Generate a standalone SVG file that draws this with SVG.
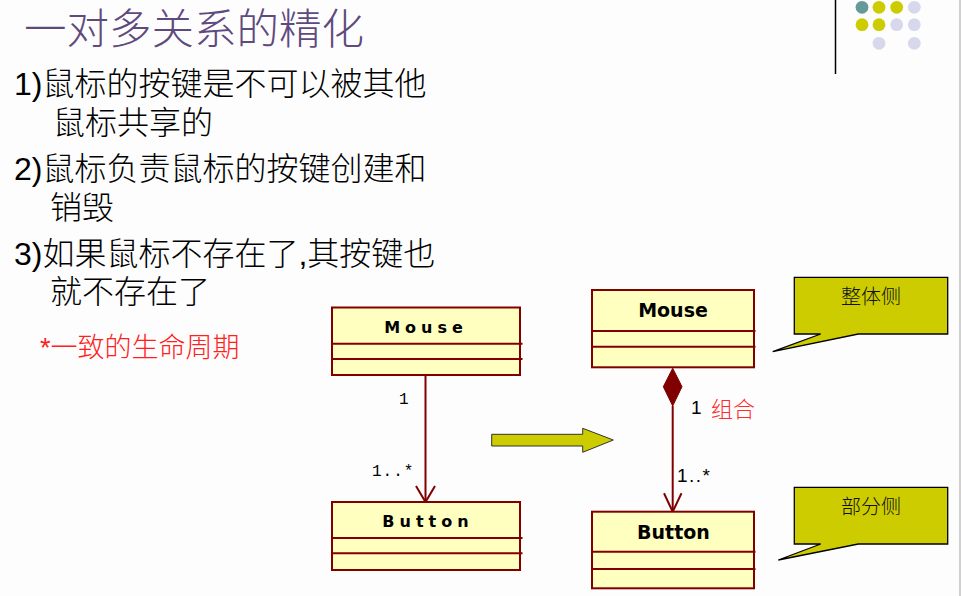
<svg xmlns="http://www.w3.org/2000/svg" width="961" height="596" viewBox="0 0 961 596">
<style>
.bg{fill:#fdfdfd}
.cls{fill:#ffffc0;stroke:#800000;stroke-width:2}
.div{stroke:#800000;stroke-width:2}
.conn{stroke:#800000;stroke-width:2;fill:none}
.txt{font-family:"Liberation Sans","Noto Sans CJK SC",sans-serif;font-size:32px;font-weight:300;fill:#000}
.title{font-family:"Liberation Sans","Noto Sans CJK SC",sans-serif;font-size:42.5px;font-weight:300;fill:#5f4a7d}
.cname1{font-family:"DejaVu Sans",sans-serif;font-weight:bold;font-size:16px;letter-spacing:5px;fill:#000}
.cname2{font-family:"DejaVu Sans",sans-serif;font-weight:bold;font-size:19px;fill:#000}
.mult1{font-family:"Liberation Mono",monospace;font-size:16px;fill:#000}
.mult2{font-family:"Liberation Sans",sans-serif;font-size:19px;fill:#000}
.callout{fill:#cccc00;stroke:#000;stroke-width:1.3}
.ctext{font-family:"Noto Sans CJK SC",sans-serif;font-size:20px;fill:#111;font-weight:300}
</style>
<rect class="bg" x="0" y="0" width="961" height="596"/>
<line x1="960" y1="0" x2="960" y2="596" stroke="#c0c0c0" stroke-width="1.5"/>

<g id="decor">
<line x1="835.5" y1="0" x2="835.5" y2="74" stroke="#000" stroke-width="1.5"/>
<circle cx="862" cy="7.3" r="6.4" fill="#669999"/>
<circle cx="879" cy="7.3" r="6.4" fill="#cccc00"/>
<circle cx="896.7" cy="7.3" r="6.4" fill="#cccc00"/>
<circle cx="914.3" cy="7.3" r="6.4" fill="#d8d8ec"/>
<circle cx="862" cy="24.7" r="6.4" fill="#cccc00"/>
<circle cx="879" cy="24.7" r="6.4" fill="#cccc00"/>
<circle cx="896.7" cy="24.7" r="6.4" fill="#d8d8ec"/>
<circle cx="914.3" cy="24.7" r="6.4" fill="#d8d8ec"/>
<circle cx="879" cy="43.3" r="6.4" fill="#d8d8ec"/>
<circle cx="914.3" cy="43.3" r="6.4" fill="#d8d8ec"/>
</g>

<g id="title">
<text class="title" x="24" y="44">一对多关系的精化</text>
</g>

<g id="points">
<text class="txt" x="14" y="95">1)鼠标的按键是不可以被其他</text>
<text class="txt" x="53" y="134">鼠标共享的</text>
<text class="txt" x="14" y="180">2)鼠标负责鼠标的按键创建和</text>
<text class="txt" x="50" y="219">销毁</text>
<text class="txt" x="14" y="265">3)如果鼠标不存在了,其按键也</text>
<text class="txt" x="50" y="303">就不存在了</text>
<text x="40" y="357" font-family="Liberation Sans,Noto Sans CJK SC,sans-serif" font-size="27" font-weight="300" fill="#ff2020">*一致的生命周期</text>
</g>

<g id="connectors">
<line class="conn" x1="425.5" y1="375" x2="425.5" y2="502"/>
<polyline class="conn" points="416,486 425.5,502 435,486"/>
<line class="conn" x1="672.7" y1="406" x2="672.7" y2="511.7"/>
<polyline class="conn" points="664,493.3 672.7,511.7 681.5,493.3"/>
<polygon points="672.7,368.3 663.3,386.7 672.7,406 682,386.7" fill="#800000" stroke="#800000" stroke-width="1"/>
</g>

<g id="labels">
<text class="mult1" x="399" y="404">1</text>
<text class="mult1" x="372" y="476" letter-spacing="1">1..*</text>
<text class="mult2" x="691" y="414">1</text>
<text x="711" y="417" font-family="Noto Sans CJK SC,sans-serif" font-size="22" font-weight="300" fill="#ff2a2a">组合</text>
<text class="mult2" x="677" y="482" letter-spacing="1.5">1..*</text>
</g>

<g id="mouse-left">
<rect class="cls" x="332" y="307.5" width="188" height="67.5"/>
<line class="div" x1="332" y1="343.7" x2="522.5" y2="343.7"/>
<line class="div" x1="332" y1="359" x2="522.5" y2="359"/>
<text class="cname1" x="426" y="333" text-anchor="middle">Mouse</text>
</g>

<g id="button-left">
<rect class="cls" x="332" y="502" width="188" height="68"/>
<line class="div" x1="332" y1="538" x2="522.5" y2="538"/>
<line class="div" x1="332" y1="553.3" x2="522.5" y2="553.3"/>
<text class="cname1" x="428" y="527" text-anchor="middle">Button</text>
</g>

<g id="mouse-right">
<rect class="cls" x="592" y="290" width="162" height="77.3"/>
<line class="div" x1="592" y1="331" x2="755.5" y2="331"/>
<line class="div" x1="592" y1="346.7" x2="755.5" y2="346.7"/>
<text class="cname2" x="673" y="317" text-anchor="middle">Mouse</text>
</g>

<g id="button-right">
<rect class="cls" x="592" y="511.7" width="162" height="76.6"/>
<line class="div" x1="592" y1="551.7" x2="755.5" y2="551.7"/>
<line class="div" x1="592" y1="569" x2="755.5" y2="569"/>
<text class="cname2" x="673.5" y="538.5" text-anchor="middle">Button</text>
</g>

<g id="transform-arrow">
<polygon points="491.7,434.3 582.7,434.3 582.7,428.3 613.3,440 582.7,452.3 582.7,446 491.7,446" fill="#cccc00" stroke="#333" stroke-width="1"/>
</g>

<g id="callout-whole">
<path class="callout" d="M794.3,277.3 H947.7 V334 H858.3 L772.7,351.7 L820.7,334 H794.3 Z"/>
<text class="ctext" x="871" y="304" text-anchor="middle">整体侧</text>
</g>

<g id="callout-part">
<path class="callout" d="M794.3,487.3 H947.7 V544 H858.3 L778.3,560 L820.7,544 H794.3 Z"/>
<text class="ctext" x="871" y="514" text-anchor="middle">部分侧</text>
</g>
</svg>
